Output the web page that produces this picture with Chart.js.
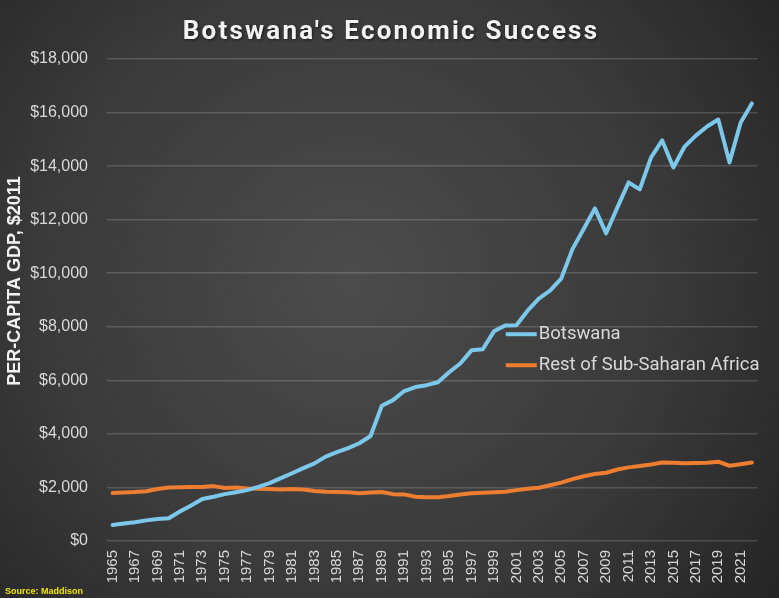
<!DOCTYPE html>
<html><head><meta charset="utf-8">
<script src="https://cdn.jsdelivr.net/npm/chart.js@4"></script>
<style>html,body{margin:0;padding:0;background:#2b2b2b;overflow:hidden}</style>
</head><body>
<canvas id="c" width="779" height="598" style="display:block;width:779px;height:598px"></canvas>
<script>
const years = [1965,1966,1967,1968,1969,1970,1971,1972,1973,1974,1975,1976,1977,1978,1979,1980,1981,1982,1983,1984,1985,1986,1987,1988,1989,1990,1991,1992,1993,1994,1995,1996,1997,1998,1999,2000,2001,2002,2003,2004,2005,2006,2007,2008,2009,2010,2011,2012,2013,2014,2015,2016,2017,2018,2019,2020,2021,2022];
const botswana = [600,650,700,770,820,850,1100,1330,1570,1650,1750,1820,1900,2020,2160,2350,2530,2720,2900,3150,3320,3470,3650,3920,5050,5260,5600,5750,5820,5930,6300,6630,7120,7160,7830,8050,8060,8600,9050,9350,9800,10900,11650,12420,11490,12450,13390,13130,14320,14960,13950,14730,15140,15480,15740,14140,15630,16340];
const restSSA = [1790,1810,1830,1860,1940,2000,2010,2020,2020,2050,1980,2000,1960,1950,1940,1920,1940,1920,1870,1840,1830,1820,1780,1810,1830,1750,1740,1650,1630,1630,1680,1740,1780,1800,1820,1840,1900,1950,1990,2080,2180,2310,2420,2500,2550,2670,2750,2800,2860,2930,2920,2900,2910,2920,2960,2810,2870,2930];
const seriesNames = ['Botswana','Rest of Sub-Saharan Africa'];
const titleText = "Botswana's Economic Success";
const yTitle = 'PER-CAPITA GDP, $2011';
const sourceText = 'Source: Maddison';
const yMin = 0, yMax = 18000, yStep = 2000;

const BLUE = '#7CC8EA', ORANGE = '#ED7D31';

const bgPlugin = {
  id:'bg',
  beforeDraw(chart){
    const {ctx,width,height} = chart;
    ctx.save();
    const g = ctx.createRadialGradient(350,280,0,350,280,560);
    g.addColorStop(0,'#4c4c4c');
    g.addColorStop(0.55,'#3a3a3a');
    g.addColorStop(1,'#222222');
    ctx.fillStyle = g;
    ctx.fillRect(0,0,width,height);
    ctx.restore();
  }
};

const decoPlugin = {
  id:'deco',
  afterDraw(chart){
    const {ctx, chartArea:a} = chart;
    ctx.save();
    // title
    ctx.font = 'bold 26px Roboto';
    ctx.letterSpacing = '2.2px';
    ctx.fillStyle = '#f4f4f4';
    ctx.textAlign = 'center';
    ctx.textBaseline = 'alphabetic';
    ctx.shadowColor = 'rgba(0,0,0,0.6)';
    ctx.shadowBlur = 3; ctx.shadowOffsetX = 1; ctx.shadowOffsetY = 1;
    ctx.fillText(titleText, 391, 39);
    ctx.shadowColor = 'transparent';
    ctx.letterSpacing = '0px';
    // y title
    ctx.save();
    ctx.translate(15, 281);
    ctx.rotate(-Math.PI/2);
    ctx.font = 'bold 18px "Liberation Sans"';
    ctx.fillStyle = '#f2f2f2';
    ctx.textAlign = 'center';
    ctx.textBaseline = 'middle';
    ctx.fillText(yTitle, 0, 0);
    ctx.restore();
    // legend
    const lx = a.left + (a.right - a.left) * 0.613;
    const ly0 = a.top + (a.bottom - a.top) * 0.571;
    const gap = 31;
    chart.data.datasets.forEach((ds, i) => {
      const y = ly0 + i * gap;
      ctx.strokeStyle = ds.borderColor;
      ctx.lineWidth = 4;
      ctx.lineCap = 'butt';
      ctx.beginPath(); ctx.moveTo(lx, y); ctx.lineTo(lx + 31, y); ctx.stroke();
      ctx.font = '18.5px Roboto';
      ctx.fillStyle = '#d9d9d9';
      ctx.textAlign = 'left';
      ctx.textBaseline = 'middle';
      ctx.fillText(ds.label, lx + 33, y);
    });
    // source
    ctx.font = 'bold 9px "Liberation Sans"';
    ctx.fillStyle = '#f2e600';
    ctx.textAlign = 'left';
    ctx.textBaseline = 'alphabetic';
    ctx.fillText(sourceText, 5, 594);
    ctx.restore();
  }
};

new Chart(document.getElementById('c'), {
  type:'line',
  data:{
    labels: years.map(String),
    datasets:[
      {label:seriesNames[0], data:botswana, borderColor:BLUE, backgroundColor:BLUE, borderWidth:4, pointRadius:0, tension:0, borderJoinStyle:'round', borderCapStyle:'round'},
      {label:seriesNames[1], data:restSSA, borderColor:ORANGE, backgroundColor:ORANGE, borderWidth:4, pointRadius:0, tension:0, borderJoinStyle:'round', borderCapStyle:'round'}
    ]
  },
  options:{
    responsive:false,
    devicePixelRatio:1,
    animation:false,
    layout:{padding:{top:59,left:0,right:11,bottom:0}},
    plugins:{legend:{display:false}, title:{display:false}, tooltip:{enabled:false}},
    scales:{
      x:{
        offset:true,
        grid:{display:false, drawTicks:false},
        border:{display:false},
        afterFit(s){ s.height = 57; },
        ticks:{
          autoSkip:false, maxRotation:90, minRotation:90, padding:9,
          color:'#d9d9d9', font:{family:'"Liberation Sans"', size:15},
          callback(v,i){ return i % 2 === 0 ? this.getLabelForValue(v) : ''; }
        }
      },
      y:{
        min:yMin, max:yMax,
        afterFit(s){ s.width = 107; },
        grid:{color:'rgba(255,255,255,0.16)', lineWidth:1.5, drawTicks:false},
        border:{display:false},
        ticks:{
          stepSize:yStep, padding:19, color:'#d9d9d9',
          font:{family:'"Liberation Sans"', size:16},
          callback(v){ return '$' + Number(v).toLocaleString('en-US'); }
        }
      }
    }
  },
  plugins:[bgPlugin, decoPlugin]
});
</script>
</body></html>
